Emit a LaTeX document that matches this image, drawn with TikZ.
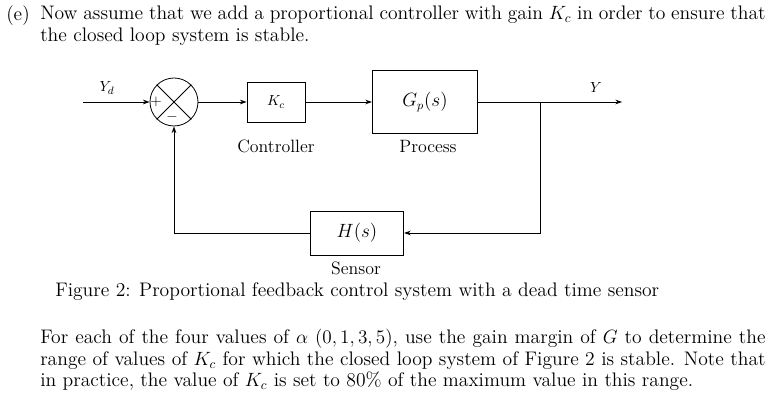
\documentclass[tikz,border=0pt]{standalone}
\usetikzlibrary{arrows.meta}
\begin{document}
\begin{tikzpicture}[x=0.75pt,y=-0.75pt,
  lbl/.style={font=\fontsize{13.4}{16}\selectfont},
  sml/.style={font=\fontsize{11}{13}\selectfont},
  txt/.style={font=\fontsize{14.7}{16.2}\selectfont,anchor=north west,inner sep=0pt},
  ar/.style={-{Stealth[length=5pt,width=3.5pt]},line width=0.6pt}]
\useasboundingbox (0,0) rectangle (783,402);
\node[txt] (e) at (6,6) {(e)};
\node[txt] (p1) at (40,6) {\parbox{544pt}{Now assume that we add a proportional controller with gain $K_c$ in order to ensure that the closed loop system is stable.}};
\node[draw,line width=0.6pt,circle,minimum size=36pt,inner sep=0pt] (s) at (174,102) {};
\draw[line width=0.6pt] (s.north east)--(s.south west) (s.north west)--(s.south east);
\node[sml] (plus) at (156,102) {$+$};
\node[sml] (minus) at (172,117) {$-$};
\node[sml,draw,line width=0.6pt,minimum width=43.5pt,minimum height=30pt] (kc) at (276,102) {$K_c$};
\node[lbl,draw,line width=0.6pt,minimum width=79pt,minimum height=47pt] (gp) at (425,102) {$G_p(s)$};
\node[lbl,draw,line width=0.6pt,minimum width=70pt,minimum height=33pt] (h) at (357,233) {$H(s)$};
\node[lbl] (ctl) at (276,146) {Controller};
\node[lbl] (pro) at (428,146) {Process};
\node[lbl] (sen) at (356,268) {Sensor};
\coordinate (in) at (83,102);
\coordinate (out) at (622,102);
\coordinate (br) at (540,102);
\coordinate (c1) at (540,233);
\coordinate (c2) at (174,233);
\node[sml] (yd) at (107,88) {$Y_d$};
\node[sml] (y) at (596,88) {$Y$};
\draw[ar] (in)--(s);
\draw[ar] (s)--(kc);
\draw[ar] (kc)--(gp);
\draw[ar] (gp)--(out);
\draw[ar] (br)--(c1)--(h);
\draw[ar] (h)--(c2)--(s);
\node[txt] (cap) at (55,282) {Figure 2: Proportional feedback control system with a dead time sensor};
\node[txt] (p2) at (40,329) {\parbox{544pt}{For each of the four values of $\alpha$ $(0,1,3,5)$, use the gain margin of $G$ to determine the range of values of $K_c$ for which the closed loop system of Figure 2 is stable. Note that in practice, the value of $K_c$ is set to 80\% of the maximum value in this range.}};
\end{tikzpicture}
\end{document}
